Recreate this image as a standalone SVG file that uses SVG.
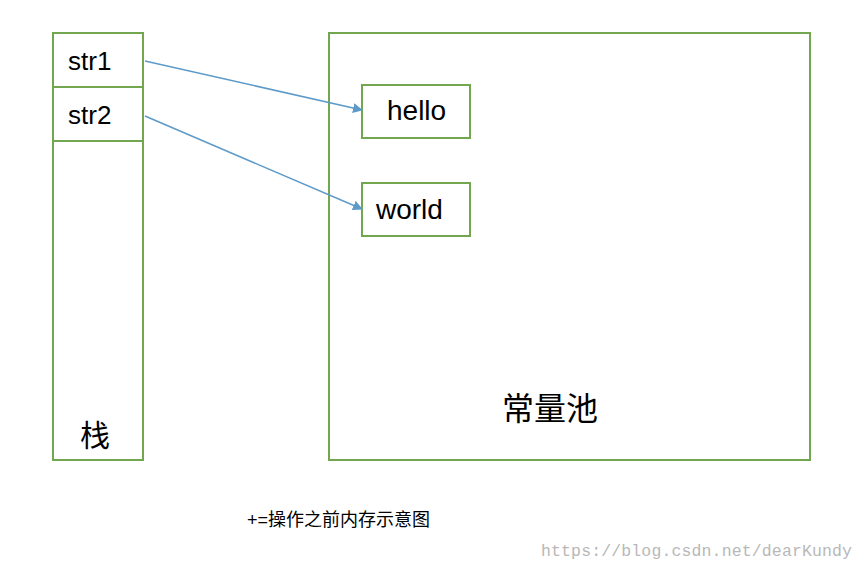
<svg xmlns="http://www.w3.org/2000/svg" width="864" height="570" viewBox="0 0 864 570">
<defs>
<style>
.box{fill:none;stroke:#73a74f;stroke-width:2}
.t{font-family:"Liberation Sans","Noto Sans CJK SC",sans-serif;fill:#000}
.c{stroke:#5d9ac8;stroke-width:1.5;fill:none}
</style>
<marker id="a" viewBox="0 0 10 10" refX="9" refY="5" markerWidth="10" markerHeight="10" orient="auto" markerUnits="userSpaceOnUse"><path d="M0,0L10,5L0,10z" fill="#5d9ac8"/></marker>
</defs>
<rect width="864" height="570" fill="#fff"/>
<g id="stack">
<rect class="box" x="53" y="33" width="90" height="427"/>
<line class="box" x1="53" y1="87" x2="143" y2="87"/>
<line class="box" x1="53" y1="141" x2="143" y2="141"/>
<text class="t" x="68" y="70" font-size="26">str1</text>
<text class="t" x="68" y="124" font-size="26">str2</text>
<text class="t" x="80" y="446" font-size="30">栈</text>
</g>
<g id="pool">
<rect class="box" x="329" y="33" width="481" height="427"/>
<text class="t" x="502" y="420" font-size="32">常量池</text>
</g>
<g id="hello">
<rect class="box" x="362" y="85" width="108" height="53"/>
<text class="t" x="387" y="120" font-size="28">hello</text>
</g>
<g id="world">
<rect class="box" x="362" y="183" width="108" height="53"/>
<text class="t" x="376" y="219" font-size="28">world</text>
</g>
<g id="connectors">
<line class="c" x1="145" y1="61" x2="362" y2="110" marker-end="url(#a)"/>
<line class="c" x1="145" y1="116" x2="362" y2="209" marker-end="url(#a)"/>
</g>
<text class="t" x="247" y="526" font-size="18">+=操作之前内存示意图</text>
<text x="541" y="556" font-size="16.5" fill="#b8b8b8" font-family="Liberation Mono,monospace" textLength="311">https://blog.csdn.net/dearKundy</text>
</svg>
